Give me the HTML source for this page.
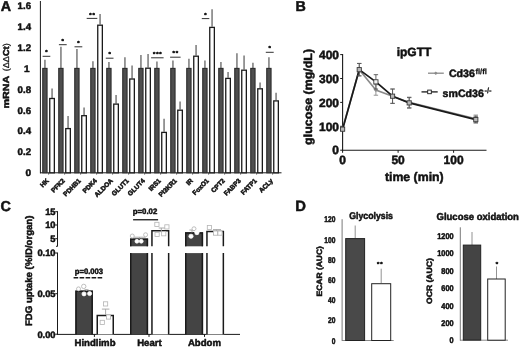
<!DOCTYPE html>
<html><head><meta charset="utf-8"><title>Figure</title>
<style>
html,body{margin:0;padding:0;background:#fff;}
svg{display:block;filter:blur(0.3px);font-family:"Liberation Sans",Arial,sans-serif;fill:#111;text-rendering:geometricPrecision;}
text{stroke:#111;stroke-width:0.5px;paint-order:stroke;stroke-linejoin:round;}
</style></head>
<body>
<svg width="520" height="347" viewBox="0 0 520 347">
<rect x="0" y="0" width="520" height="347" fill="#fff"/>
<g id="panelA">
<text x="0.7" y="11.3" font-size="14.3" font-weight="bold">A</text>
<text transform="translate(8.7,108.6) rotate(-90)" font-size="8.8" font-weight="bold" textLength="32.8" lengthAdjust="spacingAndGlyphs">mRNA</text>
<text transform="translate(8.7,71.3) rotate(-90)" font-size="8.6" textLength="28" lengthAdjust="spacingAndGlyphs" style="stroke-width:0.25px">(ΔΔ<tspan font-weight="bold" style="stroke-width:0.5px">Ct</tspan>)</text>
<text x="31.0" y="9.0" text-anchor="end" font-size="9.6" font-weight="bold" textLength="13.4" lengthAdjust="spacingAndGlyphs">1.6</text>
<text x="31.0" y="29.9" text-anchor="end" font-size="9.6" font-weight="bold" textLength="13.4" lengthAdjust="spacingAndGlyphs">1.4</text>
<text x="31.0" y="50.8" text-anchor="end" font-size="9.6" font-weight="bold" textLength="13.4" lengthAdjust="spacingAndGlyphs">1.2</text>
<text x="29.6" y="71.7" text-anchor="end" font-size="9.6" font-weight="bold" textLength="5.6" lengthAdjust="spacingAndGlyphs">1</text>
<text x="31.0" y="92.6" text-anchor="end" font-size="9.6" font-weight="bold" textLength="13.4" lengthAdjust="spacingAndGlyphs">0.8</text>
<text x="31.0" y="113.5" text-anchor="end" font-size="9.6" font-weight="bold" textLength="13.4" lengthAdjust="spacingAndGlyphs">0.6</text>
<text x="31.0" y="134.4" text-anchor="end" font-size="9.6" font-weight="bold" textLength="13.4" lengthAdjust="spacingAndGlyphs">0.4</text>
<text x="31.0" y="155.3" text-anchor="end" font-size="9.6" font-weight="bold" textLength="13.4" lengthAdjust="spacingAndGlyphs">0.2</text>
<text x="31.0" y="176.2" text-anchor="end" font-size="9.6" font-weight="bold" textLength="5.6" lengthAdjust="spacingAndGlyphs">0</text>
<line x1="40.4" y1="1" x2="40.4" y2="173.3" stroke="#1a1a1a" stroke-width="1"/>
<line x1="40" y1="172.8" x2="281.5" y2="172.8" stroke="#1a1a1a" stroke-width="1"/>
<line x1="44.95" y1="59.8" x2="44.95" y2="67.90" stroke="#484848" stroke-width="1.1"/>
<rect x="42.75" y="68.40" width="4.3" height="104.40" fill="#4e4e4e" stroke="#2c2c2c" stroke-width="1.1"/>
<line x1="52.05" y1="88.5" x2="52.05" y2="97.90" stroke="#484848" stroke-width="1.1"/>
<rect x="49.75" y="98.50" width="4.6" height="74.30" fill="#fff" stroke="#1a1a1a" stroke-width="1.3"/>
<line x1="48.60" y1="172.8" x2="48.60" y2="174.60000000000002" stroke="#1a1a1a" stroke-width="0.7"/>
<text transform="translate(49.40,181.2) rotate(-45)" text-anchor="end" font-size="6.5" font-weight="bold">HK</text>
<line x1="42.60" y1="56.3" x2="50.30" y2="56.3" stroke="#1a1a1a" stroke-width="0.9"/>
<text x="46.85" y="54.40" text-anchor="middle" font-size="6" letter-spacing="0.9" font-weight="bold">*</text>
<line x1="60.95" y1="46.8" x2="60.95" y2="67.90" stroke="#484848" stroke-width="1.1"/>
<rect x="58.75" y="68.40" width="4.3" height="104.40" fill="#4e4e4e" stroke="#2c2c2c" stroke-width="1.1"/>
<line x1="68.05" y1="116" x2="68.05" y2="128.00" stroke="#484848" stroke-width="1.1"/>
<rect x="65.75" y="128.60" width="4.6" height="44.20" fill="#fff" stroke="#1a1a1a" stroke-width="1.3"/>
<line x1="64.60" y1="172.8" x2="64.60" y2="174.60000000000002" stroke="#1a1a1a" stroke-width="0.7"/>
<text transform="translate(65.40,181.2) rotate(-45)" text-anchor="end" font-size="6.5" font-weight="bold">PFK2</text>
<line x1="58.90" y1="44.7" x2="66.70" y2="44.7" stroke="#1a1a1a" stroke-width="0.9"/>
<text x="63.20" y="42.80" text-anchor="middle" font-size="6" letter-spacing="0.9" font-weight="bold">*</text>
<line x1="76.95" y1="49" x2="76.95" y2="67.90" stroke="#484848" stroke-width="1.1"/>
<rect x="74.75" y="68.40" width="4.3" height="104.40" fill="#4e4e4e" stroke="#2c2c2c" stroke-width="1.1"/>
<line x1="84.05" y1="107.5" x2="84.05" y2="115.10" stroke="#484848" stroke-width="1.1"/>
<rect x="81.75" y="115.70" width="4.6" height="57.10" fill="#fff" stroke="#1a1a1a" stroke-width="1.3"/>
<line x1="80.60" y1="172.8" x2="80.60" y2="174.60000000000002" stroke="#1a1a1a" stroke-width="0.7"/>
<text transform="translate(81.40,181.2) rotate(-45)" text-anchor="end" font-size="6.5" font-weight="bold">PDHB1</text>
<line x1="74.50" y1="46.8" x2="82.30" y2="46.8" stroke="#1a1a1a" stroke-width="0.9"/>
<text x="78.80" y="44.90" text-anchor="middle" font-size="6" letter-spacing="0.9" font-weight="bold">*</text>
<line x1="92.95" y1="61.2" x2="92.95" y2="67.90" stroke="#484848" stroke-width="1.1"/>
<rect x="90.75" y="68.40" width="4.3" height="104.40" fill="#4e4e4e" stroke="#2c2c2c" stroke-width="1.1"/>
<line x1="100.05" y1="14" x2="100.05" y2="24.60" stroke="#484848" stroke-width="1.1"/>
<rect x="97.75" y="25.20" width="4.6" height="147.60" fill="#fff" stroke="#1a1a1a" stroke-width="1.3"/>
<line x1="96.60" y1="172.8" x2="96.60" y2="174.60000000000002" stroke="#1a1a1a" stroke-width="0.7"/>
<text transform="translate(97.40,181.2) rotate(-45)" text-anchor="end" font-size="6.5" font-weight="bold">PDK4</text>
<line x1="86.70" y1="18.4" x2="97.30" y2="18.4" stroke="#1a1a1a" stroke-width="0.9"/>
<text x="92.40" y="16.50" text-anchor="middle" font-size="6" letter-spacing="0.9" font-weight="bold">**</text>
<line x1="108.95" y1="62" x2="108.95" y2="67.90" stroke="#484848" stroke-width="1.1"/>
<rect x="106.75" y="68.40" width="4.3" height="104.40" fill="#4e4e4e" stroke="#2c2c2c" stroke-width="1.1"/>
<line x1="116.05" y1="95" x2="116.05" y2="103.50" stroke="#484848" stroke-width="1.1"/>
<rect x="113.75" y="104.10" width="4.6" height="68.70" fill="#fff" stroke="#1a1a1a" stroke-width="1.3"/>
<line x1="112.60" y1="172.8" x2="112.60" y2="174.60000000000002" stroke="#1a1a1a" stroke-width="0.7"/>
<text transform="translate(113.40,181.2) rotate(-45)" text-anchor="end" font-size="6.5" font-weight="bold">ALDOA</text>
<line x1="105.80" y1="58.2" x2="113.50" y2="58.2" stroke="#1a1a1a" stroke-width="0.9"/>
<text x="110.05" y="56.30" text-anchor="middle" font-size="6" letter-spacing="0.9" font-weight="bold">*</text>
<line x1="124.95" y1="57.2" x2="124.95" y2="67.90" stroke="#484848" stroke-width="1.1"/>
<rect x="122.75" y="68.40" width="4.3" height="104.40" fill="#4e4e4e" stroke="#2c2c2c" stroke-width="1.1"/>
<line x1="132.05" y1="65.4" x2="132.05" y2="78.40" stroke="#484848" stroke-width="1.1"/>
<rect x="129.75" y="79.00" width="4.6" height="93.80" fill="#fff" stroke="#1a1a1a" stroke-width="1.3"/>
<line x1="128.60" y1="172.8" x2="128.60" y2="174.60000000000002" stroke="#1a1a1a" stroke-width="0.7"/>
<text transform="translate(129.40,181.2) rotate(-45)" text-anchor="end" font-size="6.5" font-weight="bold">GLUT1</text>
<line x1="140.95" y1="55" x2="140.95" y2="67.90" stroke="#484848" stroke-width="1.1"/>
<rect x="138.75" y="68.40" width="4.3" height="104.40" fill="#4e4e4e" stroke="#2c2c2c" stroke-width="1.1"/>
<line x1="148.05" y1="54" x2="148.05" y2="67.60" stroke="#484848" stroke-width="1.1"/>
<rect x="145.75" y="68.20" width="4.6" height="104.60" fill="#fff" stroke="#1a1a1a" stroke-width="1.3"/>
<line x1="144.60" y1="172.8" x2="144.60" y2="174.60000000000002" stroke="#1a1a1a" stroke-width="0.7"/>
<text transform="translate(145.40,181.2) rotate(-45)" text-anchor="end" font-size="6.5" font-weight="bold">GLUT4</text>
<line x1="156.95" y1="61.4" x2="156.95" y2="67.90" stroke="#484848" stroke-width="1.1"/>
<rect x="154.75" y="68.40" width="4.3" height="104.40" fill="#4e4e4e" stroke="#2c2c2c" stroke-width="1.1"/>
<line x1="164.05" y1="118.8" x2="164.05" y2="131.80" stroke="#484848" stroke-width="1.1"/>
<rect x="161.75" y="132.40" width="4.6" height="40.40" fill="#fff" stroke="#1a1a1a" stroke-width="1.3"/>
<line x1="160.60" y1="172.8" x2="160.60" y2="174.60000000000002" stroke="#1a1a1a" stroke-width="0.7"/>
<text transform="translate(161.40,181.2) rotate(-45)" text-anchor="end" font-size="6.5" font-weight="bold">IRS1</text>
<line x1="151.10" y1="57.8" x2="163.60" y2="57.8" stroke="#1a1a1a" stroke-width="0.9"/>
<text x="157.75" y="55.90" text-anchor="middle" font-size="6" letter-spacing="0.9" font-weight="bold">***</text>
<line x1="172.95" y1="60.5" x2="172.95" y2="67.90" stroke="#484848" stroke-width="1.1"/>
<rect x="170.75" y="68.40" width="4.3" height="104.40" fill="#4e4e4e" stroke="#2c2c2c" stroke-width="1.1"/>
<line x1="180.05" y1="101.4" x2="180.05" y2="109.60" stroke="#484848" stroke-width="1.1"/>
<rect x="177.75" y="110.20" width="4.6" height="62.60" fill="#fff" stroke="#1a1a1a" stroke-width="1.3"/>
<line x1="176.60" y1="172.8" x2="176.60" y2="174.60000000000002" stroke="#1a1a1a" stroke-width="0.7"/>
<text transform="translate(177.40,181.2) rotate(-45)" text-anchor="end" font-size="6.5" font-weight="bold">PI3KR1</text>
<line x1="170.10" y1="57.2" x2="180.60" y2="57.2" stroke="#1a1a1a" stroke-width="0.9"/>
<text x="175.75" y="55.30" text-anchor="middle" font-size="6" letter-spacing="0.9" font-weight="bold">**</text>
<line x1="188.95" y1="58.8" x2="188.95" y2="67.90" stroke="#484848" stroke-width="1.1"/>
<rect x="186.75" y="68.40" width="4.3" height="104.40" fill="#4e4e4e" stroke="#2c2c2c" stroke-width="1.1"/>
<line x1="196.05" y1="45" x2="196.05" y2="55.60" stroke="#484848" stroke-width="1.1"/>
<rect x="193.75" y="56.20" width="4.6" height="116.60" fill="#fff" stroke="#1a1a1a" stroke-width="1.3"/>
<line x1="192.60" y1="172.8" x2="192.60" y2="174.60000000000002" stroke="#1a1a1a" stroke-width="0.7"/>
<text transform="translate(193.40,181.2) rotate(-45)" text-anchor="end" font-size="6.5" font-weight="bold">IR</text>
<line x1="204.95" y1="60.5" x2="204.95" y2="67.90" stroke="#484848" stroke-width="1.1"/>
<rect x="202.75" y="68.40" width="4.3" height="104.40" fill="#4e4e4e" stroke="#2c2c2c" stroke-width="1.1"/>
<line x1="212.05" y1="9.2" x2="212.05" y2="26.80" stroke="#484848" stroke-width="1.1"/>
<rect x="209.75" y="27.40" width="4.6" height="145.40" fill="#fff" stroke="#1a1a1a" stroke-width="1.3"/>
<line x1="208.60" y1="172.8" x2="208.60" y2="174.60000000000002" stroke="#1a1a1a" stroke-width="0.7"/>
<text transform="translate(209.40,181.2) rotate(-45)" text-anchor="end" font-size="6.5" font-weight="bold">FoxO1</text>
<line x1="201.80" y1="18.6" x2="209.30" y2="18.6" stroke="#1a1a1a" stroke-width="0.9"/>
<text x="205.95" y="16.70" text-anchor="middle" font-size="6" letter-spacing="0.9" font-weight="bold">*</text>
<line x1="220.95" y1="62" x2="220.95" y2="67.90" stroke="#484848" stroke-width="1.1"/>
<rect x="218.75" y="68.40" width="4.3" height="104.40" fill="#4e4e4e" stroke="#2c2c2c" stroke-width="1.1"/>
<line x1="228.05" y1="71.9" x2="228.05" y2="77.80" stroke="#484848" stroke-width="1.1"/>
<rect x="225.75" y="78.40" width="4.6" height="94.40" fill="#fff" stroke="#1a1a1a" stroke-width="1.3"/>
<line x1="224.60" y1="172.8" x2="224.60" y2="174.60000000000002" stroke="#1a1a1a" stroke-width="0.7"/>
<text transform="translate(225.40,181.2) rotate(-45)" text-anchor="end" font-size="6.5" font-weight="bold">CPT2</text>
<line x1="236.95" y1="53.3" x2="236.95" y2="67.90" stroke="#484848" stroke-width="1.1"/>
<rect x="234.75" y="68.40" width="4.3" height="104.40" fill="#4e4e4e" stroke="#2c2c2c" stroke-width="1.1"/>
<line x1="244.05" y1="55.5" x2="244.05" y2="69.60" stroke="#484848" stroke-width="1.1"/>
<rect x="241.75" y="70.20" width="4.6" height="102.60" fill="#fff" stroke="#1a1a1a" stroke-width="1.3"/>
<line x1="240.60" y1="172.8" x2="240.60" y2="174.60000000000002" stroke="#1a1a1a" stroke-width="0.7"/>
<text transform="translate(241.40,181.2) rotate(-45)" text-anchor="end" font-size="6.5" font-weight="bold">FABP3</text>
<line x1="252.95" y1="62.7" x2="252.95" y2="67.90" stroke="#484848" stroke-width="1.1"/>
<rect x="250.75" y="68.40" width="4.3" height="104.40" fill="#4e4e4e" stroke="#2c2c2c" stroke-width="1.1"/>
<line x1="260.05" y1="82.4" x2="260.05" y2="88.20" stroke="#484848" stroke-width="1.1"/>
<rect x="257.75" y="88.80" width="4.6" height="84.00" fill="#fff" stroke="#1a1a1a" stroke-width="1.3"/>
<line x1="256.60" y1="172.8" x2="256.60" y2="174.60000000000002" stroke="#1a1a1a" stroke-width="0.7"/>
<text transform="translate(257.40,181.2) rotate(-45)" text-anchor="end" font-size="6.5" font-weight="bold">FATP1</text>
<line x1="268.95" y1="57.2" x2="268.95" y2="67.90" stroke="#484848" stroke-width="1.1"/>
<rect x="266.75" y="68.40" width="4.3" height="104.40" fill="#4e4e4e" stroke="#2c2c2c" stroke-width="1.1"/>
<line x1="276.05" y1="92.8" x2="276.05" y2="100.30" stroke="#484848" stroke-width="1.1"/>
<rect x="273.75" y="100.90" width="4.6" height="71.90" fill="#fff" stroke="#1a1a1a" stroke-width="1.3"/>
<line x1="272.60" y1="172.8" x2="272.60" y2="174.60000000000002" stroke="#1a1a1a" stroke-width="0.7"/>
<text transform="translate(273.40,181.2) rotate(-45)" text-anchor="end" font-size="6.5" font-weight="bold">ACLy</text>
<line x1="265.80" y1="52.3" x2="273.70" y2="52.3" stroke="#1a1a1a" stroke-width="0.9"/>
<text x="270.15" y="50.40" text-anchor="middle" font-size="6" letter-spacing="0.9" font-weight="bold">*</text>
</g>
<g id="panelB">
<text x="295.4" y="11.4" font-size="14.3" font-weight="bold">B</text>
<line x1="342.6" y1="54.099999999999994" x2="342.6" y2="150.7" stroke="#1a1a1a" stroke-width="1.1"/>
<line x1="342.1" y1="150.2" x2="486.5" y2="150.2" stroke="#1a1a1a" stroke-width="1.1"/>
<line x1="340.20000000000005" y1="150.20" x2="342.6" y2="150.20" stroke="#1a1a1a" stroke-width="1"/>
<text x="339" y="154.40" text-anchor="end" font-size="12" font-weight="bold">0</text>
<line x1="340.20000000000005" y1="126.30" x2="342.6" y2="126.30" stroke="#1a1a1a" stroke-width="1"/>
<text x="339" y="130.50" text-anchor="end" font-size="12" font-weight="bold">100</text>
<line x1="340.20000000000005" y1="102.40" x2="342.6" y2="102.40" stroke="#1a1a1a" stroke-width="1"/>
<text x="339" y="106.60" text-anchor="end" font-size="12" font-weight="bold">200</text>
<line x1="340.20000000000005" y1="78.50" x2="342.6" y2="78.50" stroke="#1a1a1a" stroke-width="1"/>
<text x="339" y="82.70" text-anchor="end" font-size="12" font-weight="bold">300</text>
<line x1="340.20000000000005" y1="54.60" x2="342.6" y2="54.60" stroke="#1a1a1a" stroke-width="1"/>
<text x="339" y="58.80" text-anchor="end" font-size="12" font-weight="bold">400</text>
<line x1="342.60" y1="150.2" x2="342.60" y2="152.79999999999998" stroke="#1a1a1a" stroke-width="1"/>
<text x="342.60" y="164.3" text-anchor="middle" font-size="12" font-weight="bold">0</text>
<line x1="398.10" y1="150.2" x2="398.10" y2="152.79999999999998" stroke="#1a1a1a" stroke-width="1"/>
<text x="398.10" y="164.3" text-anchor="middle" font-size="12" font-weight="bold">50</text>
<line x1="453.60" y1="150.2" x2="453.60" y2="152.79999999999998" stroke="#1a1a1a" stroke-width="1"/>
<text x="453.60" y="164.3" text-anchor="middle" font-size="12" font-weight="bold">100</text>
<text x="414.3" y="180.6" text-anchor="middle" font-size="12.3" font-weight="bold">time (min)</text>
<text transform="translate(311.6,96.9) rotate(-90)" text-anchor="middle" font-size="11.7" font-weight="bold" textLength="96" lengthAdjust="spacingAndGlyphs">glucose (mg/dL)</text>
<text x="414" y="55.8" text-anchor="middle" font-size="12" font-weight="bold">ipGTT</text>
<polyline points="342.60,128.69 359.25,69.66 375.90,89.97 392.55,96.19 409.20,102.40 475.80,118.89" fill="none" stroke="#8a8a8a" stroke-width="1.6"/>
<path d="M342.60 127.26V130.12M340.40 127.26h4.4M340.40 130.12h4.4" stroke="#8a8a8a" stroke-width="0.9" fill="none"/>
<path d="M342.60 126.69l2 2l-2 2l-2 -2z" fill="#8a8a8a"/>
<path d="M359.25 63.44V75.87M357.05 63.44h4.4M357.05 75.87h4.4" stroke="#8a8a8a" stroke-width="0.9" fill="none"/>
<path d="M359.25 67.66l2 2l-2 2l-2 -2z" fill="#8a8a8a"/>
<path d="M375.90 84.71V95.23M373.70 84.71h4.4M373.70 95.23h4.4" stroke="#8a8a8a" stroke-width="0.9" fill="none"/>
<path d="M375.90 87.97l2 2l-2 2l-2 -2z" fill="#8a8a8a"/>
<path d="M392.55 89.02V103.36M390.35 89.02h4.4M390.35 103.36h4.4" stroke="#8a8a8a" stroke-width="0.9" fill="none"/>
<path d="M392.55 94.19l2 2l-2 2l-2 -2z" fill="#8a8a8a"/>
<path d="M409.20 97.14V107.66M407.00 97.14h4.4M407.00 107.66h4.4" stroke="#8a8a8a" stroke-width="0.9" fill="none"/>
<path d="M409.20 100.40l2 2l-2 2l-2 -2z" fill="#8a8a8a"/>
<path d="M475.80 115.07V122.71M473.60 115.07h4.4M473.60 122.71h4.4" stroke="#8a8a8a" stroke-width="0.9" fill="none"/>
<path d="M475.80 116.89l2 2l-2 2l-2 -2z" fill="#8a8a8a"/>
<polyline points="342.60,129.17 359.25,69.66 375.90,81.85 392.55,96.19 409.20,102.88 475.80,119.61" fill="none" stroke="#1a1a1a" stroke-width="1.75" stroke-linejoin="round"/>
<path d="M342.60 127.73V130.60M340.40 127.73h4.4M340.40 130.60h4.4" stroke="#555" stroke-width="0.9" fill="none"/>
<rect x="340.50" y="127.07" width="4.2" height="4.2" fill="#b8b8b8" stroke="#3a3a3a" stroke-width="0.9"/>
<path d="M359.25 63.44V75.87M357.05 63.44h4.4M357.05 75.87h4.4" stroke="#555" stroke-width="0.9" fill="none"/>
<rect x="357.15" y="67.56" width="4.2" height="4.2" fill="#b8b8b8" stroke="#3a3a3a" stroke-width="0.9"/>
<path d="M375.90 74.68V89.02M373.70 74.68h4.4M373.70 89.02h4.4" stroke="#555" stroke-width="0.9" fill="none"/>
<rect x="373.80" y="79.75" width="4.2" height="4.2" fill="#f4f4f4" stroke="#3a3a3a" stroke-width="0.9"/>
<path d="M392.55 89.02V103.36M390.35 89.02h4.4M390.35 103.36h4.4" stroke="#555" stroke-width="0.9" fill="none"/>
<rect x="390.45" y="94.09" width="4.2" height="4.2" fill="#b8b8b8" stroke="#3a3a3a" stroke-width="0.9"/>
<path d="M409.20 97.62V108.14M407.00 97.62h4.4M407.00 108.14h4.4" stroke="#555" stroke-width="0.9" fill="none"/>
<rect x="407.10" y="100.78" width="4.2" height="4.2" fill="#b8b8b8" stroke="#3a3a3a" stroke-width="0.9"/>
<path d="M475.80 116.26V122.95M473.60 116.26h4.4M473.60 122.95h4.4" stroke="#555" stroke-width="0.9" fill="none"/>
<rect x="473.70" y="117.51" width="4.2" height="4.2" fill="#b8b8b8" stroke="#3a3a3a" stroke-width="0.9"/>
<line x1="428" y1="73.2" x2="443.8" y2="73.2" stroke="#8a8a8a" stroke-width="1.3"/>
<path d="M435.8 71.4l1.8 1.8l-1.8 1.8l-1.8 -1.8z" fill="#8a8a8a"/>
<text x="448.9" y="77.3" font-size="10.6" font-weight="bold">Cd36<tspan font-size="7.6" dy="-3.4" dx="0.6" style="stroke-width:0.25px">fl/fl</tspan></text>
<line x1="421.5" y1="91.9" x2="437.7" y2="91.9" stroke="#1a1a1a" stroke-width="1.3"/>
<rect x="427.7" y="90.1" width="3.6" height="3.6" fill="#fff" stroke="#1a1a1a" stroke-width="0.9"/>
<text x="442.6" y="96.5" font-size="10.6" font-weight="bold">smCd36<tspan font-size="7.6" dy="-3.4" dx="0.6" style="stroke-width:0.25px">-/-</tspan></text>
</g>
<g id="panelC">
<text x="0.4" y="210.7" font-size="14.4" font-weight="bold">C</text>
<line x1="57.5" y1="211.2" x2="57.5" y2="246.4" stroke="#1a1a1a" stroke-width="1"/>
<line x1="57.5" y1="252.6" x2="57.5" y2="334.9" stroke="#1a1a1a" stroke-width="1"/>
<line x1="57.0" y1="334.4" x2="240" y2="334.4" stroke="#1a1a1a" stroke-width="1"/>
<line x1="55.2" y1="211.7" x2="57.5" y2="211.7" stroke="#1a1a1a" stroke-width="1"/>
<text x="55.5" y="215.00" text-anchor="end" font-size="9.3" font-weight="bold">15</text>
<line x1="55.2" y1="225" x2="57.5" y2="225" stroke="#1a1a1a" stroke-width="1"/>
<text x="55.5" y="228.30" text-anchor="end" font-size="9.3" font-weight="bold">10</text>
<line x1="55.2" y1="238.7" x2="57.5" y2="238.7" stroke="#1a1a1a" stroke-width="1"/>
<text x="55.5" y="242.00" text-anchor="end" font-size="9.3" font-weight="bold">5</text>
<line x1="55.2" y1="253" x2="57.5" y2="253" stroke="#1a1a1a" stroke-width="1"/>
<text x="55.5" y="256.30" text-anchor="end" font-size="9.3" font-weight="bold">0.10</text>
<line x1="55.2" y1="293.7" x2="57.5" y2="293.7" stroke="#1a1a1a" stroke-width="1"/>
<text x="55.5" y="297.00" text-anchor="end" font-size="9.3" font-weight="bold">0.05</text>
<line x1="55.2" y1="334.2" x2="57.5" y2="334.2" stroke="#1a1a1a" stroke-width="1"/>
<text x="55.5" y="337.50" text-anchor="end" font-size="9.3" font-weight="bold">0.00</text>
<line x1="56.0" y1="246.3" x2="57.5" y2="246.3" stroke="#1a1a1a" stroke-width="1"/>
<text transform="translate(31.6,270.8) rotate(-90)" text-anchor="middle" font-size="9.5" font-weight="bold" textLength="110.5" lengthAdjust="spacingAndGlyphs">FDG uptake (%ID/organ)</text>
<rect x="75.30" y="290.60" width="17.60" height="43.80" fill="#444"/>
<path d="M76.05 334.4V291.35H92.15V334.4" fill="none" stroke="#1a1a1a" stroke-width="1.5"/>
<rect x="96.50" y="314.80" width="17.50" height="19.60" fill="#fff"/>
<path d="M97.25 334.4V315.55H113.25V334.4" fill="none" stroke="#1a1a1a" stroke-width="1.5"/>
<rect x="130.00" y="238.50" width="18.10" height="7.80" fill="#444"/>
<rect x="130.00" y="253.1" width="18.10" height="81.30" fill="#444"/>
<path d="M130.75 246.3V239.25H147.35V246.3M130.75 253.1V334.4M147.35 253.1V334.4" fill="none" stroke="#1a1a1a" stroke-width="1.5"/>
<rect x="151.20" y="230.00" width="18.20" height="16.30" fill="#fff"/>
<rect x="151.20" y="253.1" width="18.20" height="81.30" fill="#fff"/>
<path d="M151.95 246.3V230.75H168.65V246.3M151.95 253.1V334.4M168.65 253.1V334.4" fill="none" stroke="#1a1a1a" stroke-width="1.5"/>
<rect x="185.00" y="232.20" width="18.10" height="14.10" fill="#444"/>
<rect x="185.00" y="253.1" width="18.10" height="81.30" fill="#444"/>
<path d="M185.75 246.3V232.95H202.35V246.3M185.75 253.1V334.4M202.35 253.1V334.4" fill="none" stroke="#1a1a1a" stroke-width="1.5"/>
<rect x="206.20" y="230.70" width="17.90" height="15.60" fill="#fff"/>
<rect x="206.20" y="253.1" width="17.90" height="81.30" fill="#fff"/>
<path d="M206.95 246.3V231.45H223.35V246.3M206.95 253.1V334.4M223.35 253.1V334.4" fill="none" stroke="#1a1a1a" stroke-width="1.5"/>
<line x1="94.4" y1="334.4" x2="94.4" y2="336.9" stroke="#1a1a1a" stroke-width="1"/>
<line x1="149" y1="334.4" x2="149" y2="336.9" stroke="#1a1a1a" stroke-width="1"/>
<line x1="204.5" y1="334.4" x2="204.5" y2="336.9" stroke="#1a1a1a" stroke-width="1"/>
<text x="95" y="345.6" text-anchor="middle" font-size="9.6" font-weight="bold">Hindlimb</text>
<text x="149.4" y="345.6" text-anchor="middle" font-size="9.6" font-weight="bold">Heart</text>
<text x="204.4" y="345.6" text-anchor="middle" font-size="9.6" font-weight="bold">Abdom</text>
<path d="M105.6 309.1V315M101.9 309.1H109.4" stroke="#a0a0a0" stroke-width="0.9" fill="none"/>
<path d="M86.5 289.7V291M84.5 289.7H88.5" stroke="#a0a0a0" stroke-width="0.9" fill="none"/>
<path d="M139.5 237.2V238.5M134 237.2H145.6" stroke="#a0a0a0" stroke-width="0.9" fill="none"/>
<path d="M161.3 228V232.5M158.7 228H165" stroke="#a0a0a0" stroke-width="0.9" fill="none"/>
<path d="M192 230V232.5M189.4 230H195" stroke="#a0a0a0" stroke-width="0.9" fill="none"/>
<path d="M216.5 229.6V234.6M213 229.6H221M213 234.6H221" stroke="#a0a0a0" stroke-width="0.9" fill="none"/>
<circle cx="78.5" cy="288.9" r="2.0" fill="#fff" stroke="#b0b0b0" stroke-width="0.8"/>
<circle cx="83.75" cy="286.4" r="2.2" fill="#fff" stroke="#b0b0b0" stroke-width="0.8"/>
<circle cx="84" cy="293.9" r="2.0" fill="#fff" stroke="#fff" stroke-width="0.8"/>
<circle cx="89.6" cy="293.6" r="2.0" fill="#fff" stroke="#fff" stroke-width="0.8"/>
<rect x="103.5" y="301.79999999999995" width="4.2" height="4.2" fill="#fff" stroke="#b4b4b4" stroke-width="0.8"/>
<rect x="106.4" y="314.9" width="4.2" height="4.2" fill="#fff" stroke="#b4b4b4" stroke-width="0.8"/>
<rect x="100.15" y="320.29999999999995" width="4.2" height="4.2" fill="#fff" stroke="#b4b4b4" stroke-width="0.8"/>
<circle cx="132.25" cy="236" r="2.0" fill="#fff" stroke="#b0b0b0" stroke-width="0.8"/>
<circle cx="145.6" cy="234.75" r="2.0" fill="#fff" stroke="#b0b0b0" stroke-width="0.8"/>
<circle cx="136.9" cy="241.25" r="1.9" fill="#fff" stroke="#fff" stroke-width="0.8"/>
<circle cx="141.25" cy="241.25" r="1.9" fill="#fff" stroke="#fff" stroke-width="0.8"/>
<rect x="154.8" y="222.3" width="4.2" height="4.2" fill="#fff" stroke="#b4b4b4" stroke-width="0.8"/>
<rect x="164.8" y="224.8" width="4.2" height="4.2" fill="#fff" stroke="#b4b4b4" stroke-width="0.8"/>
<rect x="155.0" y="232.3" width="4.2" height="4.2" fill="#fff" stroke="#b4b4b4" stroke-width="0.8"/>
<rect x="161.65" y="231.65" width="4.2" height="4.2" fill="#fff" stroke="#b4b4b4" stroke-width="0.8"/>
<circle cx="194" cy="228.75" r="2.0" fill="#fff" stroke="#b0b0b0" stroke-width="0.8"/>
<circle cx="191" cy="236.25" r="2.1" fill="#fff" stroke="#fff" stroke-width="0.8"/>
<circle cx="196.9" cy="232.5" r="2.2" fill="#fff" stroke="#fff" stroke-width="0.8"/>
<rect x="207.3" y="225.4" width="4.2" height="4.2" fill="#fff" stroke="#b4b4b4" stroke-width="0.8"/>
<rect x="213.5" y="231.0" width="4.2" height="4.2" fill="#fff" stroke="#b4b4b4" stroke-width="0.8"/>
<rect x="217.9" y="231.0" width="4.2" height="4.2" fill="#fff" stroke="#b4b4b4" stroke-width="0.8"/>
<text x="74.8" y="273.8" font-size="7.8" font-weight="bold" textLength="28.2" lengthAdjust="spacingAndGlyphs">p=0.003</text>
<line x1="73.6" y1="277.75" x2="102.3" y2="277.75" stroke="#1a1a1a" stroke-width="1.3" stroke-dasharray="4.6 1.4"/>
<text x="132.8" y="213.5" font-size="7.8" font-weight="bold" textLength="24.5" lengthAdjust="spacingAndGlyphs">p=0.02</text>
<line x1="133.1" y1="219.75" x2="158.1" y2="219.75" stroke="#1a1a1a" stroke-width="1.3"/>
</g>
<g id="panelD">
<text x="295.2" y="211.3" font-size="14.8" font-weight="bold">D</text>
<text x="371.1" y="219.4" text-anchor="middle" font-size="9.7" font-weight="bold" textLength="43.8" lengthAdjust="spacingAndGlyphs">Glycolysis</text>
<line x1="342.1" y1="219.2" x2="342.1" y2="340.9" stroke="#7a7a7a" stroke-width="1"/>
<line x1="342" y1="340.5" x2="393.7" y2="340.5" stroke="#7a7a7a" stroke-width="0.9"/>
<text x="335.4" y="343.50" text-anchor="end" font-size="8.4" font-weight="bold" textLength="3.72" lengthAdjust="spacingAndGlyphs">0</text>
<text x="335.4" y="323.30" text-anchor="end" font-size="8.4" font-weight="bold" textLength="7.44" lengthAdjust="spacingAndGlyphs">20</text>
<text x="335.4" y="303.10" text-anchor="end" font-size="8.4" font-weight="bold" textLength="7.44" lengthAdjust="spacingAndGlyphs">40</text>
<text x="335.4" y="282.90" text-anchor="end" font-size="8.4" font-weight="bold" textLength="7.44" lengthAdjust="spacingAndGlyphs">60</text>
<text x="335.4" y="262.70" text-anchor="end" font-size="8.4" font-weight="bold" textLength="7.44" lengthAdjust="spacingAndGlyphs">80</text>
<text x="335.4" y="242.50" text-anchor="end" font-size="8.4" font-weight="bold" textLength="11.16" lengthAdjust="spacingAndGlyphs">100</text>
<text x="335.4" y="222.30" text-anchor="end" font-size="8.4" font-weight="bold" textLength="11.16" lengthAdjust="spacingAndGlyphs">120</text>
<text transform="translate(321.9,271.3) rotate(-90)" text-anchor="middle" font-size="7.7" font-weight="bold" textLength="50.2" lengthAdjust="spacingAndGlyphs">ECAR (AUC)</text>
<line x1="355.2" y1="225.5" x2="355.2" y2="238" stroke="#777" stroke-width="0.8"/>
<rect x="345.7" y="238.6" width="18.9" height="101.9" fill="#494949" stroke="#222" stroke-width="1"/>
<line x1="381.2" y1="268.7" x2="381.2" y2="283" stroke="#777" stroke-width="0.8"/>
<rect x="371.7" y="283.7" width="19" height="56.8" fill="#fff" stroke="#222" stroke-width="1"/>
<text x="380.2" y="265.6" text-anchor="middle" font-size="6" letter-spacing="0.9" font-weight="bold">**</text>
<text x="477.7" y="219.7" text-anchor="middle" font-size="9.9" font-weight="bold" textLength="82.4" lengthAdjust="spacingAndGlyphs">Glucose oxidation</text>
<line x1="460.3" y1="227.3" x2="460.3" y2="340.6" stroke="#7a7a7a" stroke-width="1"/>
<line x1="460" y1="340.2" x2="508" y2="340.2" stroke="#7a7a7a" stroke-width="0.9"/>
<text x="453.6" y="343.20" text-anchor="end" font-size="8.4" font-weight="bold" textLength="4.10" lengthAdjust="spacingAndGlyphs">0</text>
<text x="453.6" y="325.85" text-anchor="end" font-size="8.4" font-weight="bold" textLength="12.30" lengthAdjust="spacingAndGlyphs">200</text>
<text x="453.6" y="308.50" text-anchor="end" font-size="8.4" font-weight="bold" textLength="12.30" lengthAdjust="spacingAndGlyphs">400</text>
<text x="453.6" y="291.15" text-anchor="end" font-size="8.4" font-weight="bold" textLength="12.30" lengthAdjust="spacingAndGlyphs">600</text>
<text x="453.6" y="273.80" text-anchor="end" font-size="8.4" font-weight="bold" textLength="12.30" lengthAdjust="spacingAndGlyphs">800</text>
<text x="453.6" y="256.45" text-anchor="end" font-size="8.4" font-weight="bold" textLength="16.40" lengthAdjust="spacingAndGlyphs">1000</text>
<text x="453.6" y="239.10" text-anchor="end" font-size="8.4" font-weight="bold" textLength="16.40" lengthAdjust="spacingAndGlyphs">1200</text>
<text transform="translate(432.3,281.1) rotate(-90)" text-anchor="middle" font-size="7.7" font-weight="bold" textLength="45.7" lengthAdjust="spacingAndGlyphs">OCR (AUC)</text>
<line x1="472" y1="232" x2="472" y2="245" stroke="#777" stroke-width="0.8"/>
<rect x="463.3" y="245.1" width="17.4" height="95" fill="#444" stroke="#222" stroke-width="1"/>
<line x1="496.5" y1="266.5" x2="496.5" y2="279" stroke="#777" stroke-width="0.8"/>
<rect x="487.7" y="279" width="17.5" height="61.2" fill="#fff" stroke="#222" stroke-width="1"/>
<text x="497.3" y="266.4" text-anchor="middle" font-size="6" letter-spacing="0.9" font-weight="bold">*</text>
</g>
</svg>
</body></html>
